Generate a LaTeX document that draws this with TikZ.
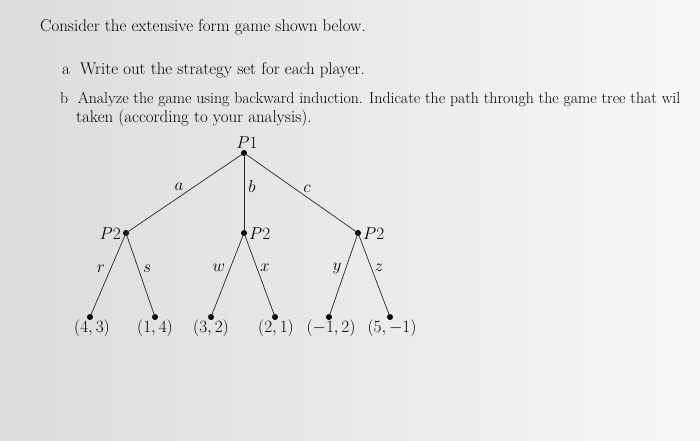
\documentclass[tikz,border=0pt]{standalone}
\usepackage{amsmath}
\begin{document}
\begin{tikzpicture}[x=1bp,y=-1bp,
  txt/.style={anchor=base west,inner sep=0pt,font=\fontsize{17}{19}\selectfont},
  dec/.style={circle,fill=black,inner sep=0pt,minimum size=6pt},
  lbl/.style={inner sep=1pt,font=\fontsize{16.5}{18}\selectfont},
  edge/.style={draw=black!85,line width=0.7pt}]
\useasboundingbox (0,0) rectangle (700,441);
\clip (0,0) rectangle (700,441);
\shade[left color=black!14,right color=black!3] (0,0) rectangle (700,441);
% text
\node[txt] (t1) at (40,32) {Consider the extensive form game shown below.};
\node[txt] (t2) at (62,75) {a\ \ Write out the strategy set for each player.};
\node[txt,font=\fontsize{15.9}{18}\selectfont] (t3) at (60,104) {b\ \ Analyze the game using backward induction. Indicate the path through the game tree that wil};
\node[txt] (t4) at (76,123) {taken (according to your analysis).};
% decision nodes
\node[dec] (p1) at (244,153) {};
\node[dec] (l) at (126,233) {};
\node[dec] (m) at (244,233) {};
\node[dec] (r) at (358,233) {};
\node[lbl,anchor=south] (p1l) at (247,150) {$P1$};
\node[lbl,anchor=east] (ll) at (122,234) {$P2$};
\node[lbl,anchor=west] (ml) at (248,234) {$P2$};
\node[lbl,anchor=west] (rl) at (362,234) {$P2$};
% leaves
\node[dec] (e1) at (90,317) {};
\node[dec] (e2) at (155,317) {};
\node[dec] (e3) at (211,317) {};
\node[dec] (e4) at (275,317) {};
\node[dec] (e5) at (329,317) {};
\node[dec] (e6) at (390,317) {};
\node[lbl] (v1) at (92,328) {$(4,3)$};
\node[lbl] (v2) at (155,328) {$(1,4)$};
\node[lbl] (v3) at (211,328) {$(3,2)$};
\node[lbl] (v4) at (276,328) {$(2,1)$};
\node[lbl] (v5) at (331,328) {$(-1,2)$};
\node[lbl] (v6) at (392,328) {$(5,-1)$};
% edges
\draw[edge] (p1.center) -- (l.center);
\draw[edge] (p1.center) -- (m.center);
\draw[edge] (p1.center) -- (r.center);
\draw[edge] (l.center) -- (e1.center);
\draw[edge] (l.center) -- (e2.center);
\draw[edge] (m.center) -- (e3.center);
\draw[edge] (m.center) -- (e4.center);
\draw[edge] (r.center) -- (e5.center);
\draw[edge] (r.center) -- (e6.center);
% edge labels
\node[lbl] (la) at (179,187) {$a$};
\node[lbl] (lb) at (252,187) {$b$};
\node[lbl] (lc) at (307,189) {$c$};
\node[lbl] (lr) at (101,269) {$r$};
\node[lbl] (ls) at (147,269) {$s$};
\node[lbl] (lw) at (219,268) {$w$};
\node[lbl] (lx) at (265,268) {$x$};
\node[lbl] (ly) at (337,268) {$y$};
\node[lbl] (lz) at (379,268) {$z$};
\end{tikzpicture}
\end{document}
